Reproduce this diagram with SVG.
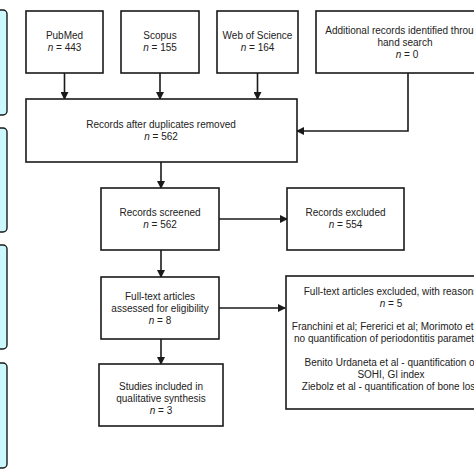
<svg xmlns="http://www.w3.org/2000/svg" width="474" height="474" viewBox="0 0 474 474">
<defs>
<marker id="ah" markerWidth="8" markerHeight="8" refX="7" refY="4" orient="auto" markerUnits="userSpaceOnUse">
<path d="M0,0 L8,4 L0,8 Z" fill="#1a1a1a"/>
</marker>
<style>
.box{fill:#fff;stroke:#1a1a1a;stroke-width:1.6}
.side{fill:#cbf8fc;stroke:#1a1a1a;stroke-width:1.4}
.t{font-family:"Liberation Sans",Arial,sans-serif;font-size:10px;fill:#222;text-anchor:middle}
.i{font-style:italic}
.c{fill:none;stroke:#1a1a1a;stroke-width:1.6}
</style>
</defs>
<rect width="474" height="474" fill="#fff"/>
<g id="sidebars">
<rect class="side" x="-10" y="10" width="17" height="105" rx="4"/>
<rect class="side" x="-10" y="128" width="17" height="104" rx="4"/>
<rect class="side" x="-10" y="245" width="17" height="104" rx="4"/>
<rect class="side" x="-10" y="363" width="17" height="105" rx="4"/>
</g>
<g id="connectors">
<line class="c" x1="64.5" y1="73" x2="64.5" y2="99" marker-end="url(#ah)"/>
<line class="c" x1="160" y1="73" x2="160" y2="99" marker-end="url(#ah)"/>
<line class="c" x1="257.5" y1="73" x2="257.5" y2="99" marker-end="url(#ah)"/>
<polyline class="c" points="408,73 408,131 297,131" marker-end="url(#ah)"/>
<line class="c" x1="161" y1="162" x2="161" y2="188" marker-end="url(#ah)"/>
<line class="c" x1="219" y1="219" x2="287" y2="219" marker-end="url(#ah)"/>
<line class="c" x1="161" y1="250" x2="161" y2="277" marker-end="url(#ah)"/>
<line class="c" x1="219" y1="308" x2="285" y2="308" marker-end="url(#ah)"/>
<line class="c" x1="161" y1="339" x2="161" y2="364" marker-end="url(#ah)"/>
</g>
<g id="pubmed">
<rect class="box" x="26" y="11" width="77" height="62"/>
<text class="t" x="64.5" y="39">PubMed</text>
<text class="t" x="64.5" y="51"><tspan class="i">n</tspan> = 443</text>
</g>
<g id="scopus">
<rect class="box" x="121" y="11" width="78" height="62"/>
<text class="t" x="160" y="39">Scopus</text>
<text class="t" x="160" y="51"><tspan class="i">n</tspan> = 155</text>
</g>
<g id="wos">
<rect class="box" x="217" y="11" width="81" height="62"/>
<text class="t" x="257.5" y="39">Web of Science</text>
<text class="t" x="257.5" y="51"><tspan class="i">n</tspan> = 164</text>
</g>
<g id="additional">
<rect class="box" x="316" y="11" width="180" height="62"/>
<text class="t" x="405" y="34">Additional records identified through</text>
<text class="t" x="405" y="46">hand search</text>
<text class="t" x="407" y="58"><tspan class="i">n</tspan> = 0</text>
</g>
<g id="duplicates">
<rect class="box" x="26" y="99" width="271" height="63"/>
<text class="t" x="161" y="128">Records after duplicates removed</text>
<text class="t" x="161" y="140"><tspan class="i">n</tspan> = 562</text>
</g>
<g id="screened">
<rect class="box" x="101" y="188" width="118" height="62"/>
<text class="t" x="160" y="216">Records screened</text>
<text class="t" x="160" y="228"><tspan class="i">n</tspan> = 562</text>
</g>
<g id="excluded">
<rect class="box" x="287" y="188" width="117" height="62"/>
<text class="t" x="345.5" y="216">Records excluded</text>
<text class="t" x="345.5" y="228"><tspan class="i">n</tspan> = 554</text>
</g>
<g id="fulltext">
<rect class="box" x="101" y="277" width="118" height="62"/>
<text class="t" x="160" y="300">Full-text articles</text>
<text class="t" x="160" y="312">assessed for eligibility</text>
<text class="t" x="160" y="324"><tspan class="i">n</tspan> = 8</text>
</g>
<g id="ftexcluded">
<rect class="box" x="286" y="276" width="212" height="133"/>
<text class="t" x="391" y="295">Full-text articles excluded, with reasons</text>
<text class="t" x="391" y="307"><tspan class="i">n</tspan> = 5</text>
<text class="t" x="391" y="330">Franchini et al; Fererici et al; Morimoto et al -</text>
<text class="t" x="391" y="342">no quantification of periodontitis parameters</text>
<text class="t" x="391" y="366">Benito Urdaneta et al - quantification of</text>
<text class="t" x="391" y="378">SOHI, GI index</text>
<text class="t" x="391" y="390">Ziebolz et al - quantification of bone loss</text>
</g>
<g id="included">
<rect class="box" x="99" y="364" width="124" height="62"/>
<text class="t" x="161" y="390">Studies included in</text>
<text class="t" x="161" y="402">qualitative synthesis</text>
<text class="t" x="161" y="414"><tspan class="i">n</tspan> = 3</text>
</g>
</svg>
